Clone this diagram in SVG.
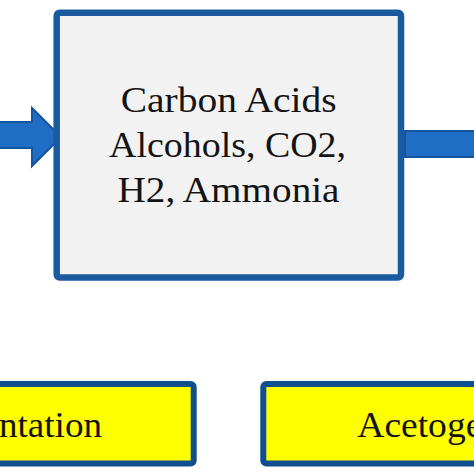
<svg xmlns="http://www.w3.org/2000/svg" width="474" height="474" viewBox="0 0 474 474">
<style>
.lbl{font-family:"Liberation Serif","DejaVu Serif",serif;font-size:35px;fill:#141414}
.main{fill:#f2f2f2;stroke:#1a5a9e;stroke-width:6.5}
.step{fill:#ffff00;stroke:#0f4f8f;stroke-width:6}
.arrow{fill:#1f6dc4;stroke:#15559e;stroke-width:2;stroke-linejoin:miter}
</style>
<rect width="474" height="474" fill="#ffffff"/>
<g id="connectors">
<polygon class="arrow" points="-5,122 32,122 32,108 61,137 32,166 32,148 -5,148"/>
<rect class="arrow" x="405" y="131" width="80" height="26"/>
</g>
<g id="node-products">
<rect class="main" x="56.7" y="12.7" width="344.3" height="264.8" rx="3"/>
<text class="lbl" x="228.7" y="111.7" text-anchor="middle" textLength="216" lengthAdjust="spacingAndGlyphs">Carbon Acids</text>
<text class="lbl" x="227.5" y="156.7" text-anchor="middle" textLength="237" lengthAdjust="spacingAndGlyphs">Alcohols, CO2,</text>
<text class="lbl" x="228.5" y="201.7" text-anchor="middle" textLength="222" lengthAdjust="spacingAndGlyphs">H2, Ammonia</text>
</g>
<g id="node-fermentation">
<rect class="step" x="-20" y="384" width="213.7" height="79.5" rx="3"/>
<text class="lbl" x="-1" y="437.3" textLength="103" lengthAdjust="spacingAndGlyphs">ntation</text>
</g>
<g id="node-acetogenesis">
<rect class="step" x="263.3" y="384" width="230" height="79.5" rx="3"/>
<text class="lbl" x="357.3" y="437.3" textLength="125" lengthAdjust="spacingAndGlyphs">Acetoge</text>
</g>
</svg>
